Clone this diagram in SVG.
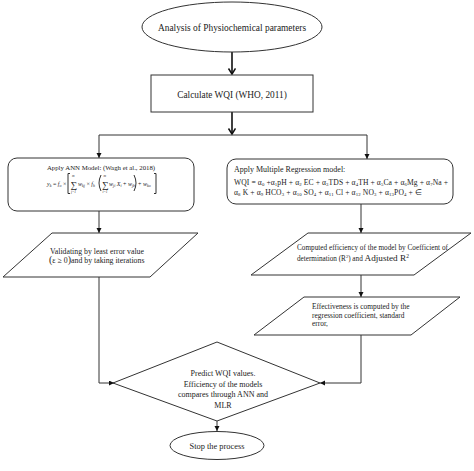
<svg xmlns="http://www.w3.org/2000/svg" width="474" height="471" viewBox="0 0 474 471">
<style>
.t{font-family:"Liberation Serif","Times New Roman",serif;fill:#222}
.shape{fill:#fff;stroke:#333;stroke-width:1}
.con{fill:none;stroke:#333;stroke-width:1}
.main{fill:none;stroke:#111;stroke-width:1.6}
.i{font-style:italic}
.s{font-size:4.8px;baseline-shift:-1.3px}
.u{baseline-shift:3px}
</style>
<defs>
<marker id="tri" markerUnits="userSpaceOnUse" markerWidth="6" markerHeight="6" refX="5" refY="2.5" orient="auto">
<path d="M0,0 L5,2.5 L0,5 z" fill="#111"/>
</marker>
<marker id="vee" markerUnits="userSpaceOnUse" markerWidth="10" markerHeight="10" refX="6" refY="4" orient="auto">
<path d="M0.5,0.5 L6,4 L0.5,7.5" fill="none" stroke="#111" stroke-width="1.5"/>
</marker>
</defs>
<rect width="474" height="471" fill="#fff"/>

<g id="connectors">
<path class="main" d="M232,52 V74" marker-end="url(#vee)"/>
<path class="main" d="M232,112 V134" marker-end="url(#vee)"/>
<path class="con" d="M99,135 H367" stroke-width="1.3"/>
<path class="con" d="M99,135 V158" marker-end="url(#tri)"/>
<path class="con" d="M367,135 V159" marker-end="url(#tri)"/>
<path class="con" d="M99,211 V233" marker-end="url(#tri)"/>
<path class="con" d="M99,277 V383 H114" marker-end="url(#tri)"/>
<path class="con" d="M361,204 V233" marker-end="url(#tri)"/>
<path class="con" d="M361,275 V297" marker-end="url(#tri)"/>
<path class="con" d="M361,335 V383 H320" marker-end="url(#tri)"/>
<path class="con" d="M217,421 V431" marker-end="url(#tri)"/>
</g>

<g id="start">
<ellipse class="shape" cx="232" cy="27" rx="90" ry="25"/>
<text class="t" x="232" y="31" font-size="9.4" text-anchor="middle">Analysis of Physiochemical parameters</text>
</g>

<g id="calc">
<rect class="shape" x="151" y="75" width="162" height="37"/>
<text class="t" x="232" y="98" font-size="9.3" text-anchor="middle">Calculate WQI (WHO, 2011)</text>
</g>

<g id="ann">
<rect class="shape" x="8" y="158" width="186" height="53" rx="9"/>
<text class="t" x="101" y="170" font-size="6.8" text-anchor="middle">Apply ANN Model: (Wagh et al., 2018)</text>
<text class="t" x="47" y="186" font-size="6"><tspan class="i">y</tspan><tspan font-size="4" class="i" dy="1">k</tspan><tspan dy="-1"> = </tspan><tspan class="i">f</tspan><tspan font-size="4" class="i" dy="1">o</tspan><tspan dy="-1"> ×</tspan></text>
<path class="con" d="M70,173.5 h-2 v20 h2" stroke-width="0.7"/>
<text class="t" x="70.5" y="188" font-size="9">∑</text>
<text class="t i" x="72" y="177" font-size="3.5">m</text>
<text class="t i" x="71" y="193" font-size="3.5">j=1</text>
<text class="t" x="78" y="186" font-size="6"><tspan class="i">w</tspan><tspan font-size="4" class="i" dy="1">kj</tspan><tspan dy="-1"> × </tspan><tspan class="i">f</tspan><tspan font-size="4" class="i" dy="1">h</tspan></text>
<path class="con" d="M101,175 q-4,8 0,16" stroke-width="0.7"/>
<text class="t" x="102" y="188" font-size="9">∑</text>
<text class="t i" x="103.5" y="177" font-size="3.5">m</text>
<text class="t i" x="102.5" y="193" font-size="3.5">i=1</text>
<text class="t" x="109" y="186" font-size="6"><tspan class="i">w</tspan><tspan font-size="4" class="i" dy="1">ji</tspan><tspan dy="-1" class="i"> X</tspan><tspan font-size="4" class="i" dy="1">i</tspan><tspan dy="-1"> + </tspan><tspan class="i">w</tspan><tspan font-size="4" class="i" dy="1">jb</tspan></text>
<path class="con" d="M134,175 q4,8 0,16" stroke-width="0.7"/>
<text class="t" x="138" y="186" font-size="6">+ <tspan class="i">w</tspan><tspan font-size="4" class="i" dy="1">ko</tspan></text>
<path class="con" d="M154,173.5 h2 v20 h-2" stroke-width="0.7"/>
</g>

<g id="mlr">
<rect class="shape" x="227" y="159" width="226" height="45" rx="9"/>
<text class="t" x="234" y="171.5" font-size="8">Apply Multiple Regression model:</text>
<text class="t" x="234" y="185" font-size="7.6" textLength="214" lengthAdjust="spacing">WQI = α<tspan class="s">0</tspan> +α<tspan class="s">1</tspan>pH + α<tspan class="s">2</tspan> EC + α<tspan class="s">3</tspan>TDS + α<tspan class="s">4</tspan>TH + α<tspan class="s">5</tspan>Ca + α<tspan class="s">6</tspan>Mg + α<tspan class="s">7</tspan>Na +</text>
<text class="t" x="234" y="194.5" font-size="7.6" textLength="188" lengthAdjust="spacing">α<tspan class="s">8</tspan> K + α<tspan class="s">9</tspan> HCO<tspan class="s">3</tspan> + α<tspan class="s">10</tspan> SO<tspan class="s">4</tspan> + α<tspan class="s">11</tspan> Cl + α<tspan class="s">12</tspan> NO<tspan class="s">3</tspan> + α<tspan class="s">13</tspan>PO<tspan class="s">4</tspan> + ∈</text>
</g>

<g id="validate">
<polygon class="shape" points="52,233 198,233 150,277 3,277"/>
<text class="t" x="50" y="253.5" font-size="7.8">Validating by least error value</text>
<text class="t" x="49" y="263" font-size="7.8"><tspan font-size="10">(</tspan>ε ≥ 0<tspan font-size="10">)</tspan>and by taking iterations</text>
</g>

<g id="efficiency">
<polygon class="shape" points="308,233 471,233 414,275 251,275"/>
<text class="t" x="297" y="249.5" font-size="7.2" textLength="151" lengthAdjust="spacing">Computed efficiency of the model by Coefficient of</text>
<text class="t" x="297" y="261" font-size="7.2">determination (R<tspan font-size="4.5" class="u">2</tspan>) and <tspan font-size="9.2">Adjusted R</tspan><tspan font-size="5.5" class="u">2</tspan></text>
</g>

<g id="effectiveness">
<polygon class="shape" points="304,297 460,297 411,335 254,335"/>
<text class="t" x="312" y="308.5" font-size="7.4">Effectiveness is computed by the</text>
<text class="t" x="312" y="317.5" font-size="7.4">regression coefficient, standard</text>
<text class="t" x="312" y="326" font-size="7.4">error,</text>
</g>

<g id="predict">
<polygon class="shape" points="217,342 320,383 217,421 113,383"/>
<text class="t" x="223" y="375.5" font-size="8" text-anchor="middle">Predict WQI values.</text>
<text class="t" x="223" y="386.5" font-size="8" text-anchor="middle">Efficiency of the models</text>
<text class="t" x="223" y="397" font-size="8" text-anchor="middle">compares through ANN and</text>
<text class="t" x="223" y="407.5" font-size="8" text-anchor="middle">MLR</text>
</g>

<g id="stop">
<ellipse class="shape" cx="217" cy="445.5" rx="47" ry="14"/>
<text class="t" x="217" y="448.5" font-size="8.4" text-anchor="middle">Stop the process</text>
</g>
</svg>
